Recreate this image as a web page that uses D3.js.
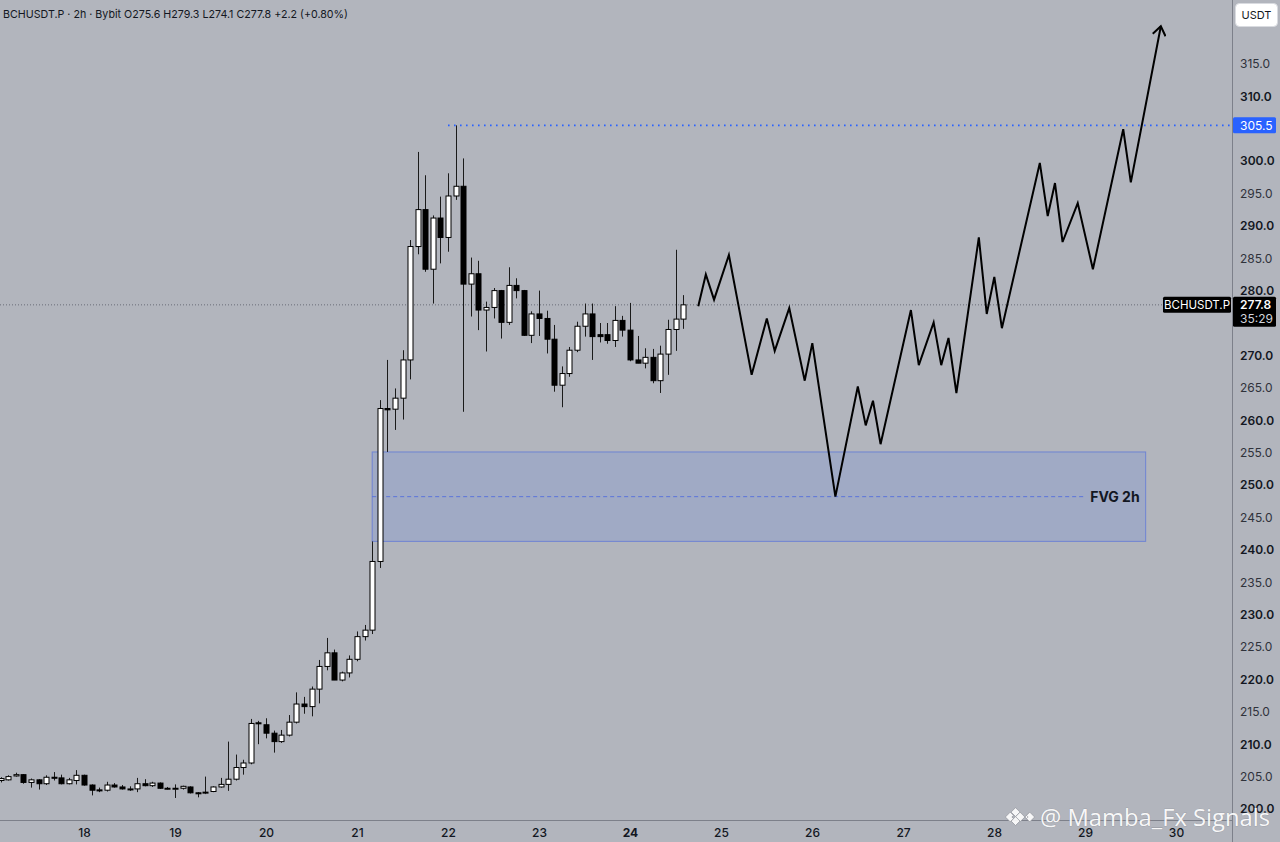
<!DOCTYPE html>
<html>
<head>
<meta charset="utf-8">
<script src="https://cdn.jsdelivr.net/npm/d3@7"></script>
<style>
  html, body { margin: 0; padding: 0; background: #b2b5bd; }
  svg { display: block; font-family: Inter, "Noto Sans", sans-serif; }
</style>
</head>
<body>
<div id="chart"></div>
<script>
const width = 1280;
const height = 842;

// 2h candles, first one opens 17th 02:00
const candleStart = Date.UTC(2025, 2, 17, 2);
const candleStep = 2 * 3600 * 1000;

const candleOpen = [
  204.4, 204.5, 205.1, 205.3, 204.1, 204.5, 203.9, 204.9, 204.8, 203.9,
  204.4, 205.2, 203.7, 202.95, 202.9, 203.7, 203.4, 203.1, 203.1, 203.9,
  203.6, 204.0, 203.2, 203.2, 203.2, 203.4, 202.5, 202.5, 202.7, 203.4,
  203.8, 204.6, 206.4, 207.1, 213.3, 213.0, 211.7, 210.4, 211.4, 213.4,
  216.2, 215.8, 218.5, 222.0, 224.1, 219.9, 221.0, 223.1, 226.6, 227.6,
  238.2, 261.8, 261.7, 263.4, 269.3, 286.8, 292.5, 283.3, 291.2, 288.2,
  294.6, 296.1, 281.0, 282.6, 277.0, 277.4, 280.0, 275.1, 280.8, 280.0,
  273.1, 276.4, 275.7, 272.5, 265.4, 267.2, 270.8, 274.5, 276.4, 273.2,
  273.2, 272.3, 275.4, 273.9, 269.3, 268.8, 269.7, 266.1, 270.2, 274.0,
  275.6
];
const candleHigh = [
  204.9, 205.2, 205.6, 205.4, 204.7, 204.6, 205.2, 205.7, 205.3, 204.8,
  206.0, 205.3, 203.8, 203.3, 204.2, 204.0, 203.7, 203.5, 204.8, 204.6,
  204.2, 204.1, 203.4, 203.8, 203.6, 203.5, 202.6, 205.0, 203.5, 204.8,
  210.4, 208.4, 207.6, 213.9, 213.6, 214.0, 212.1, 212.2, 214.5, 218.0,
  217.3, 218.9, 223.0, 226.4, 224.6, 221.2, 223.7, 227.4, 228.4, 241.3,
  263.1, 269.3, 264.9, 270.8, 287.8, 301.4, 297.8, 291.6, 294.5, 298.1,
  305.5, 300.4, 285.1, 284.6, 278.3, 280.4, 280.1, 283.6, 281.9, 280.1,
  276.8, 280.0, 276.9, 274.7, 268.3, 271.3, 275.2, 278.0, 278.0, 275.0,
  275.0, 277.6, 276.1, 278.1, 273.0, 271.1, 271.0, 271.5, 275.5, 286.3,
  279.3
];
const candleLow = [
  204.1, 204.4, 205.0, 203.9, 203.3, 203.0, 203.7, 204.4, 203.8, 203.8,
  203.8, 203.6, 202.1, 202.6, 202.7, 203.3, 203.0, 202.8, 202.6, 203.5,
  203.4, 203.1, 203.0, 201.7, 203.0, 202.4, 201.8, 202.3, 202.6, 203.3,
  202.8, 204.4, 205.3, 206.9, 210.0, 210.9, 208.7, 210.2, 211.2, 213.2,
  214.7, 214.3, 216.3, 221.4, 219.9, 219.7, 220.3, 222.8, 226.0, 227.0,
  237.2, 255.1, 258.5, 260.1, 266.3, 285.6, 282.9, 278.0, 284.2, 286.0,
  294.0, 261.3, 276.0, 273.9, 270.6, 275.7, 272.6, 274.7, 278.8, 273.0,
  271.9, 273.0, 270.3, 264.4, 262.0, 266.7, 270.5, 272.9, 269.3, 272.0,
  271.8, 271.3, 272.9, 269.1, 268.8, 268.0, 265.7, 264.2, 267.0, 270.7,
  274.1
];
const candleClose = [
  204.7, 205.0, 205.3, 204.1, 204.5, 203.9, 204.9, 204.8, 203.9, 204.5,
  205.2, 203.7, 202.9, 202.9, 203.7, 203.4, 203.1, 203.1, 203.9, 203.6,
  204.0, 203.2, 203.2, 203.2, 203.5, 202.5, 202.4, 202.6, 203.4, 203.8,
  204.6, 206.4, 207.1, 213.2, 213.2, 211.7, 210.4, 211.4, 213.4, 216.2,
  215.8, 218.5, 222.0, 224.1, 219.9, 221.0, 223.1, 226.6, 227.6, 238.2,
  261.8, 261.6, 263.4, 269.3, 286.8, 292.5, 283.3, 291.2, 288.2, 294.6,
  296.1, 281.0, 282.6, 277.0, 277.4, 280.0, 275.1, 280.8, 280.0, 273.1,
  276.4, 275.7, 272.5, 265.4, 267.2, 270.8, 274.5, 276.4, 272.9, 272.9,
  272.3, 275.4, 273.9, 269.3, 268.8, 269.7, 266.1, 270.2, 274.0, 275.6,
  277.8
];

// hand drawn projection (time, price)
const pathTimes = [
  "2025-03-24T18:00", "2025-03-24T20:00", "2025-03-24T22:10", "2025-03-25T02:05",
  "2025-03-25T08:05", "2025-03-25T12:05", "2025-03-25T14:10", "2025-03-25T18:00",
  "2025-03-25T22:05", "2025-03-26T00:05", "2025-03-26T06:10", "2025-03-26T12:05",
  "2025-03-26T14:10", "2025-03-26T16:05", "2025-03-26T18:05", "2025-03-27T02:05",
  "2025-03-27T04:10", "2025-03-27T08:05", "2025-03-27T10:05", "2025-03-27T12:00",
  "2025-03-27T14:05", "2025-03-27T20:00", "2025-03-27T22:05", "2025-03-28T00:05",
  "2025-03-28T02:05", "2025-03-28T12:05", "2025-03-28T14:10", "2025-03-28T16:05",
  "2025-03-28T18:05", "2025-03-28T22:05", "2025-03-29T02:05", "2025-03-29T10:05",
  "2025-03-29T12:05", "2025-03-29T20:00"
];
const pathPrices = [
  277.6, 282.5, 278.6, 285.5, 267.0, 275.7, 270.7, 277.3, 266.1, 271.9,
  248.2, 265.2, 259.2, 263.0, 256.3, 277.0, 268.5, 275.1, 268.5, 272.7,
  264.2, 288.2, 276.4, 282.1, 274.2, 299.7, 291.5, 296.6, 287.5, 293.5,
  283.3, 304.9, 296.7, 320.8
];

// FVG zone
const fvgTop = 255.1;
const fvgBottom = 241.3;
const fvgStart = "2025-03-21T04:00";
const fvgEnd = "2025-03-29T16:00";

const lastPrice = 277.8;
const highLevel = 305.5;
const highTime = "2025-03-22T00:00";

const priceTicks = [200, 205, 210, 215, 220, 225, 230, 235, 240, 245, 250, 255,
  260, 265, 270, 280, 285, 290, 295, 300, 310, 315];
const dayTicks = ["2025-03-18", "2025-03-19", "2025-03-20", "2025-03-21", "2025-03-22",
  "2025-03-23", "2025-03-24", "2025-03-25", "2025-03-26", "2025-03-27",
  "2025-03-28", "2025-03-29", "2025-03-30"];

const plotRight = 1232;
const plotBottom = 820;

const x = d3.scaleUtc()
  .domain([new Date("2025-03-18T00:00Z"), new Date("2025-03-30T00:00Z")])
  .range([84, 1176]);
const y = d3.scaleLinear()
  .domain([200, 300])
  .range([809, 161]);

const t = s => new Date(s + "Z");

const svg = d3.select("#chart").append("svg")
  .attr("width", width)
  .attr("height", height);

svg.append("rect").attr("width", width).attr("height", height).attr("fill", "#b2b5bd");

const plot = svg.append("g");
plot.append("clipPath").attr("id", "clip")
  .append("rect").attr("width", plotRight).attr("height", plotBottom);
const g = plot.append("g").attr("clip-path", "url(#clip)");

// FVG box
g.append("rect")
  .attr("x", x(t(fvgStart)))
  .attr("y", y(fvgTop))
  .attr("width", x(t(fvgEnd)) - x(t(fvgStart)))
  .attr("height", y(fvgBottom) - y(fvgTop))
  .attr("fill", "#2962ff").attr("fill-opacity", 0.13)
  .attr("stroke", "#4a67e0").attr("stroke-opacity", 0.6).attr("stroke-width", 1);
g.append("line")
  .attr("x1", x(t(fvgStart))).attr("x2", x(t(fvgEnd)) - 60)
  .attr("y1", y((fvgTop + fvgBottom) / 2)).attr("y2", y((fvgTop + fvgBottom) / 2))
  .attr("stroke", "#4a67e0").attr("stroke-opacity", 0.8)
  .attr("stroke-dasharray", "4,3").attr("stroke-width", 1);
g.append("text")
  .attr("x", x(t(fvgEnd)) - 6)
  .attr("y", y((fvgTop + fvgBottom) / 2))
  .attr("dy", "0.35em")
  .attr("text-anchor", "end")
  .attr("font-size", 14).attr("font-weight", 700)
  .attr("fill", "#131722")
  .text("FVG 2h");

// current price line
g.append("line")
  .attr("x1", 0).attr("x2", plotRight)
  .attr("y1", y(lastPrice)).attr("y2", y(lastPrice))
  .attr("stroke", "#6a6d78").attr("stroke-width", 1)
  .attr("stroke-dasharray", "1,2");

// high level line
g.append("line")
  .attr("x1", x(t(highTime))).attr("x2", plotRight)
  .attr("y1", y(highLevel)).attr("y2", y(highLevel))
  .attr("stroke", "#2962ff").attr("stroke-width", 1.6)
  .attr("stroke-dasharray", "1.6,4.4");

// candles
const candles = candleOpen.map((o, i) => ({
  time: new Date(candleStart + i * candleStep),
  o: o, h: candleHigh[i], l: candleLow[i], c: candleClose[i]
}));
const bodyW = 5;

const cg = g.selectAll(".candle").data(candles).enter().append("g");
cg.append("line")
  .attr("x1", d => Math.round(x(d.time)) + 0.5)
  .attr("x2", d => Math.round(x(d.time)) + 0.5)
  .attr("y1", d => y(d.h))
  .attr("y2", d => y(d.l))
  .attr("stroke", "#1a1a1a").attr("stroke-width", 1);
cg.append("rect")
  .attr("x", d => Math.round(x(d.time)) + 0.5 - bodyW / 2)
  .attr("y", d => y(Math.max(d.o, d.c)))
  .attr("width", bodyW)
  .attr("height", d => Math.max(1, Math.abs(y(d.o) - y(d.c))))
  .attr("fill", d => d.c >= d.o ? "#ffffff" : "#000000")
  .attr("stroke", "#000").attr("stroke-width", 1);

// projection path
const defs = svg.append("defs");
defs.append("marker")
  .attr("id", "arrow")
  .attr("viewBox", "0 0 14 14")
  .attr("refX", 12).attr("refY", 7)
  .attr("markerWidth", 14).attr("markerHeight", 14)
  .attr("markerUnits", "userSpaceOnUse")
  .attr("orient", "auto")
  .append("path")
  .attr("d", "M3,0.5 L12,7 L3,13.5")
  .attr("fill", "none").attr("stroke", "#000").attr("stroke-width", 2);

const pathData = pathTimes.map((s, i) => [t(s), pathPrices[i]]);
g.append("path")
  .datum(pathData)
  .attr("d", d3.line().x(d => x(d[0])).y(d => y(d[1])))
  .attr("fill", "none")
  .attr("stroke", "#000").attr("stroke-width", 2)
  .attr("stroke-linejoin", "miter")
  .attr("marker-end", "url(#arrow)");

// axes lines
svg.append("line")
  .attr("x1", plotRight + 0.5).attr("x2", plotRight + 0.5)
  .attr("y1", 0).attr("y2", height)
  .attr("stroke", "#7d808a");
svg.append("line")
  .attr("x1", 0).attr("x2", plotRight)
  .attr("y1", plotBottom + 0.5).attr("y2", plotBottom + 0.5)
  .attr("stroke", "#7d808a");

// price axis
const yAxis = svg.append("g")
  .attr("transform", `translate(${plotRight + 8},0)`)
  .call(d3.axisRight(y).tickValues(priceTicks).tickSize(0).tickPadding(0).tickFormat(d3.format(".1f")));
yAxis.select(".domain").remove();
yAxis.selectAll("text")
  .attr("font-family", "Inter, sans-serif")
  .attr("font-size", 12)
  .attr("fill", d => d % 10 === 0 ? "#131722" : "#2f323b")
  .attr("font-weight", d => d % 10 === 0 ? 600 : 400);

// time axis
const xAxis = svg.append("g")
  .attr("transform", `translate(0,${plotBottom})`)
  .call(d3.axisBottom(x).tickValues(dayTicks.map(s => t(s))).tickSize(0).tickPadding(8)
    .tickFormat(d3.utcFormat("%-d")));
xAxis.select(".domain").remove();
xAxis.selectAll("text")
  .attr("font-family", "Inter, sans-serif")
  .attr("font-size", 12)
  .attr("fill", "#131722")
  .attr("font-weight", d => d.getUTCDate() === 24 ? 700 : 500);

// right side labels
svg.append("rect")
  .attr("x", plotRight + 1).attr("y", y(highLevel) - 8)
  .attr("width", 43).attr("height", 16)
  .attr("rx", 1.5)
  .attr("fill", "#2962ff");
svg.append("text")
  .attr("x", plotRight + 8).attr("y", y(highLevel))
  .attr("dy", "0.36em")
  .attr("font-size", 12).attr("fill", "#ffffff")
  .text(highLevel.toFixed(1));

svg.append("rect")
  .attr("x", plotRight + 1).attr("y", y(lastPrice) - 8)
  .attr("width", 43).attr("height", 30)
  .attr("rx", 1.5)
  .attr("fill", "#000000");
svg.append("text")
  .attr("x", plotRight + 8).attr("y", y(lastPrice))
  .attr("dy", "0.36em")
  .attr("font-size", 12).attr("font-weight", 600).attr("fill", "#ffffff")
  .text(lastPrice.toFixed(1));
svg.append("text")
  .attr("x", plotRight + 8).attr("y", y(lastPrice) + 14)
  .attr("dy", "0.36em")
  .attr("font-size", 12).attr("fill", "#d1d4dc")
  .text("35:29");

svg.append("rect")
  .attr("x", 1163).attr("y", y(lastPrice) - 8)
  .attr("width", 68).attr("height", 16)
  .attr("rx", 1.5)
  .attr("fill", "#000000");
svg.append("text")
  .attr("x", 1197).attr("y", y(lastPrice))
  .attr("dy", "0.36em")
  .attr("text-anchor", "middle")
  .attr("font-size", 11.5).attr("fill", "#ffffff")
  .text("BCHUSDT.P");

// USDT button
svg.append("rect")
  .attr("x", 1235.5).attr("y", 3.5)
  .attr("width", 42).attr("height", 23)
  .attr("rx", 4)
  .attr("fill", "#ffffff").attr("stroke", "#d9dbe0");
svg.append("text")
  .attr("x", 1256.5).attr("y", 15)
  .attr("dy", "0.36em")
  .attr("text-anchor", "middle")
  .attr("font-size", 11).attr("fill", "#131722")
  .text("USDT");

// header
svg.append("text")
  .attr("x", 3).attr("y", 14)
  .attr("dy", "0.36em")
  .attr("font-size", 11).attr("fill", "#131722")
  .attr("textLength", 345).attr("lengthAdjust", "spacingAndGlyphs")
  .text("BCHUSDT.P · 2h · Bybit O275.6 H279.3 L274.1 C277.8 +2.2 (+0.80%)");

// watermark
const wm = svg.append("g").attr("opacity", 0.9);
const logo = wm.append("g").attr("transform", "translate(1020,817) rotate(45) scale(1.15)")
  .attr("fill", "#ffffff").attr("stroke", "#8e9199").attr("stroke-width", 0.6);
logo.append("rect").attr("x", -3).attr("y", -3).attr("width", 6).attr("height", 6);
[[-8.5, -3], [3, -8.5], [-3, 2.5]].forEach(p => {
  logo.append("rect").attr("x", p[0]).attr("y", p[1]).attr("width", 5.5).attr("height", 5.5);
});
logo.append("path").attr("d", "M-9,3 L-9,9 L-3,9 L-3,5 L-5,5 L-5,3 Z");
logo.append("path").attr("d", "M3,-9 L9,-9 L9,-3 L5,-3 L5,-5 L3,-5 Z");
wm.append("text")
  .attr("x", 1040).attr("y", 826)
  .attr("font-family", "'Open Sans', 'Noto Sans', sans-serif")
  .attr("font-size", 24)
  .attr("textLength", 230).attr("lengthAdjust", "spacingAndGlyphs")
  .attr("fill", "#ffffff")
  .attr("stroke", "#8e9199").attr("stroke-width", 0.6)
  .attr("paint-order", "stroke")
  .text("@ Mamba_Fx Signals");
</script>
</body>
</html>
